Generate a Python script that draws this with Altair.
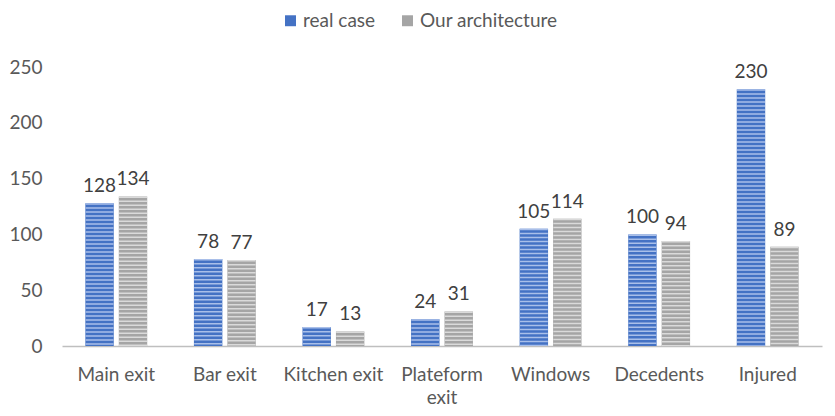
import altair as alt
import pandas as pd

categories = ["Main exit", "Bar exit", "Kitchen exit", "Plateform exit", "Windows", "Decedents", "Injured"]
real_case = [128, 78, 17, 24, 105, 100, 230]
our_arch = [134, 77, 13, 31, 114, 94, 89]
series = ["real case", "Our architecture"]

rows = []
for c, r, o in zip(categories, real_case, our_arch):
    rows.append({"category": c, "series": series[0], "value": r})
    rows.append({"category": c, "series": series[1], "value": o})
df = pd.DataFrame(rows)

FONT = "Lato"
TXT = "#595959"

x = alt.X("category:N", sort=categories, title=None,
          scale=alt.Scale(paddingInner=0.43, paddingOuter=0.215),
          axis=alt.Axis(labelAngle=0, ticks=False, domainColor="#bfbfbf", domainWidth=1.5,
                        labelFont=FONT, labelFontSize=19, labelColor=TXT, labelPadding=19,
                        labelLineHeight=23,
                        labelExpr="datum.label == 'Plateform exit' ? ['Plateform', 'exit'] : datum.label"))
xo = alt.XOffset("series:N", sort=series, scale=alt.Scale(paddingInner=0.15))
y = alt.Y("value:Q", title=None,
          scale=alt.Scale(domain=[0, 250], nice=False),
          axis=alt.Axis(values=[0, 50, 100, 150, 200, 250], grid=False, domain=False, ticks=False,
                        labelFont=FONT, labelFontSize=19, labelColor=TXT, labelPadding=20))

base = alt.Chart(df)

bars = base.mark_bar().encode(
    x=x, xOffset=xo, y=y,
    color=alt.Color("series:N", sort=series,
                    scale=alt.Scale(domain=series, range=["#4472c4", "#a5a5a5"]),
                    legend=alt.Legend(title=None, orient="none", direction="horizontal",
                                      legendX=219, legendY=-56, symbolType="square",
                                      symbolSize=120, symbolStrokeWidth=0,
                                      labelFont=FONT, labelFontSize=19, labelColor=TXT,
                                      labelOffset=3, columnPadding=22)),
)

stripes = base.mark_rule(strokeWidth=28, strokeDash=[1.5, 2.5]).encode(
    x=x, xOffset=xo, y=y, y2=alt.datum(0),
    stroke=alt.Stroke("series:N", sort=series,
                      scale=alt.Scale(domain=series, range=["#a9bfe9", "#dadada"]),
                      legend=None),
)

labels = base.mark_text(font=FONT, fontSize=19, color="#404040", baseline="alphabetic", dy=-11).encode(
    x=x, xOffset=xo, y=y, text=alt.Text("value:Q"),
)

chart = alt.layer(bars, stripes, labels).properties(
    width=760, height=279,
    autosize=alt.AutoSizeParams(type="none"),
    padding={"left": 54, "top": 59, "right": 5, "bottom": 60},
).configure(background="white").configure_view(stroke=None, strokeWidth=0)

chart.save("out.html", embed_options={"renderer": "svg", "actions": False})
